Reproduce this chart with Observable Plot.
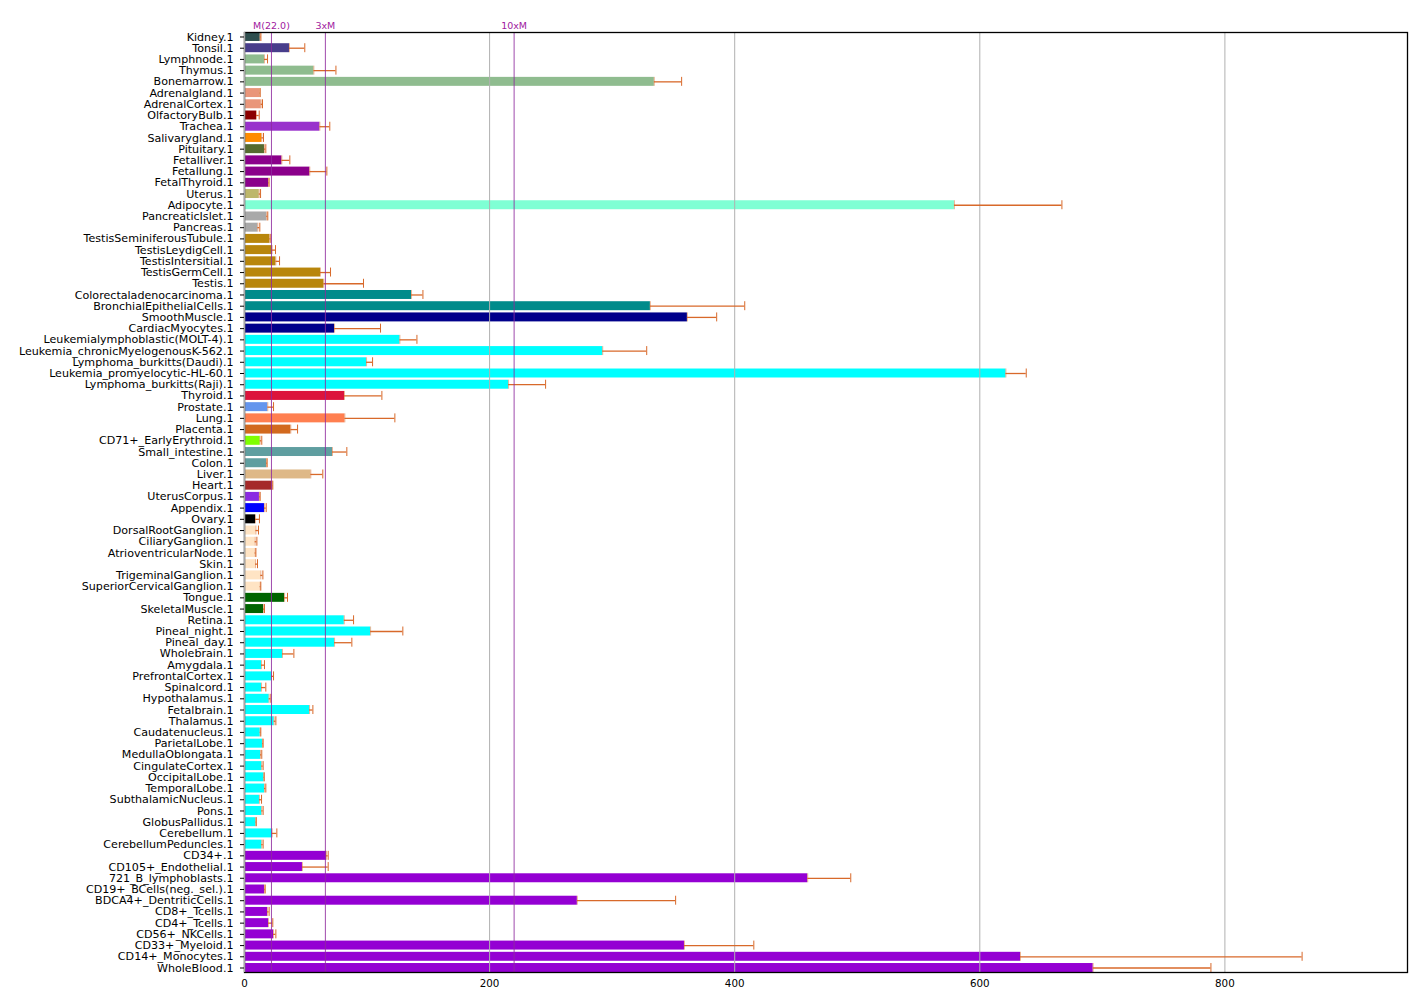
<!DOCTYPE html>
<html><head><meta charset="utf-8">
<script src="https://cdn.jsdelivr.net/npm/d3@7"></script>
<script src="https://cdn.jsdelivr.net/npm/@observablehq/plot@0.6"></script>
<style>body{margin:0;background:#fff} svg{display:block}</style>
</head><body><div id="chart"></div>
<script>
const tissues = ["Kidney.1","Tonsil.1","Lymphnode.1","Thymus.1","Bonemarrow.1","Adrenalgland.1","AdrenalCortex.1","OlfactoryBulb.1","Trachea.1","Salivarygland.1","Pituitary.1","Fetalliver.1","Fetallung.1","FetalThyroid.1","Uterus.1","Adipocyte.1","PancreaticIslet.1","Pancreas.1","TestisSeminiferousTubule.1","TestisLeydigCell.1","TestisIntersitial.1","TestisGermCell.1","Testis.1","Colorectaladenocarcinoma.1","BronchialEpithelialCells.1","SmoothMuscle.1","CardiacMyocytes.1","Leukemialymphoblastic(MOLT-4).1","Leukemia_chronicMyelogenousK-562.1","Lymphoma_burkitts(Daudi).1","Leukemia_promyelocytic-HL-60.1","Lymphoma_burkitts(Raji).1","Thyroid.1","Prostate.1","Lung.1","Placenta.1","CD71+_EarlyErythroid.1","Small_intestine.1","Colon.1","Liver.1","Heart.1","UterusCorpus.1","Appendix.1","Ovary.1","DorsalRootGanglion.1","CiliaryGanglion.1","AtrioventricularNode.1","Skin.1","TrigeminalGanglion.1","SuperiorCervicalGanglion.1","Tongue.1","SkeletalMuscle.1","Retina.1","Pineal_night.1","Pineal_day.1","Wholebrain.1","Amygdala.1","PrefrontalCortex.1","Spinalcord.1","Hypothalamus.1","Fetalbrain.1","Thalamus.1","Caudatenucleus.1","ParietalLobe.1","MedullaOblongata.1","CingulateCortex.1","OccipitalLobe.1","TemporalLobe.1","SubthalamicNucleus.1","Pons.1","GlobusPallidus.1","Cerebellum.1","CerebellumPeduncles.1","CD34+.1","CD105+_Endothelial.1","721_B_lymphoblasts.1","CD19+_BCells(neg._sel.).1","BDCA4+_DentriticCells.1","CD8+_Tcells.1","CD4+_Tcells.1","CD56+_NKCells.1","CD33+_Myeloid.1","CD14+_Monocytes.1","WholeBlood.1"];

const values = [12.8,36.7,16.3,56.6,334.4,12.5,13.6,9.8,61.5,14.1,16.3,30.5,53.3,19.6,12.0,579.3,18.2,10.9,20.7,22.6,25.6,62.0,64.7,136.3,331.2,361.4,73.5,126.8,292.3,99.6,621.3,215.5,81.6,19.0,81.9,37.8,12.8,71.8,18.0,54.1,22.6,12.2,16.3,9.0,9.3,8.7,8.7,9.0,13.3,12.8,32.7,15.5,81.4,102.9,73.5,31.0,13.9,22.0,13.9,20.1,53.1,24.2,12.8,14.7,13.1,14.1,15.8,16.3,12.2,14.1,9.3,22.6,14.1,66.9,47.3,459.6,16.3,271.6,18.8,19.6,23.7,359.0,633.2,692.5];

const errors = [0.6,12.5,2.5,18.0,22.3,0.3,1.1,2.2,8.1,1.4,1.1,6.5,13.9,0.5,1.1,87.7,0.8,1.6,0.8,2.7,3.0,8.2,32.4,9.3,77.0,23.9,37.5,13.9,35.9,4.9,16.6,30.2,30.5,4.7,40.8,5.5,1.3,11.7,0.5,9.8,0.5,0.6,1.4,3.2,2.1,1.4,0.6,1.6,1.7,0.5,2.4,0.8,7.6,26.3,14.1,9.3,2.4,1.7,3.5,1.4,2.7,1.4,0.5,0.5,1.0,1.1,0.3,1.1,1.7,1.1,0.3,3.8,1.1,1.4,21.0,35.1,0.6,80.2,1.3,3.5,1.9,56.6,229.8,96.1];

const barColors = ["darkslategray","darkslateblue","darkseagreen","darkseagreen","darkseagreen","darksalmon","darksalmon","darkred","darkorchid","darkorange","darkolivegreen","darkmagenta","darkmagenta","darkmagenta","darkkhaki","aquamarine","darkgray","darkgray","darkgoldenrod","darkgoldenrod","darkgoldenrod","darkgoldenrod","darkgoldenrod","darkcyan","darkcyan","darkblue","darkblue","cyan","cyan","cyan","cyan","cyan","crimson","cornflowerblue","coral","chocolate","chartreuse","cadetblue","cadetblue","burlywood","brown","blueviolet","blue","black","bisque","bisque","bisque","bisque","bisque","bisque","darkgreen","darkgreen","cyan","cyan","cyan","cyan","cyan","cyan","cyan","cyan","cyan","cyan","cyan","cyan","cyan","cyan","cyan","cyan","cyan","cyan","cyan","cyan","cyan","darkviolet","darkviolet","darkviolet","darkviolet","darkviolet","darkviolet","darkviolet","darkviolet","darkviolet","darkviolet","darkviolet"];

const xTicks = [0, 200, 400, 600, 800];
const refValues = [22, 66, 220];
const refLabels = ["M(22.0)", "3xM", "10xM"];

const data = tissues.map((t, i) => ({tissue: t, value: values[i], err: errors[i], color: barColors[i]}));
const refs = refValues.map((v, i) => ({x: v, label: refLabels[i]}));

const errColor = "#d8692a";
const refColor = "#8e2a9e";

const chart = Plot.plot({
  width: 1426,
  height: 1008,
  marginLeft: 244,
  marginRight: 19,
  marginTop: 32,
  marginBottom: 36,
  style: {fontFamily: "DejaVu Sans", fontSize: "11px", background: "white", color: "black", overflow: "visible"},
  x: {domain: [0, 949], ticks: xTicks, tickSize: 0, tickPadding: 7, label: null},
  y: {domain: tissues, paddingInner: 0.2, paddingOuter: 0, round: false, tickSize: 4, tickPadding: 7, label: null},
  color: {type: "identity"},
  marks: [
    Plot.barX(data, {y: "tissue", x: "value", fill: "color"}),
    Plot.ruleX(xTicks, {stroke: "#b0b0b0", strokeWidth: 1}),
    Plot.ruleY(data, {y: "tissue", x1: "value", x2: d => d.value + d.err, stroke: errColor, strokeWidth: 1.3}),
    Plot.tickX(data, {y: "tissue", x: "value", stroke: errColor, strokeWidth: 1, strokeOpacity: 0.5}),
    Plot.tickX(data, {y: "tissue", x: d => d.value + d.err, stroke: errColor, strokeWidth: 1}),
    Plot.ruleX(refs, {x: "x", stroke: refColor, strokeWidth: 1, strokeOpacity: 0.85}),
    Plot.frame({stroke: "black", strokeWidth: 1.3}),
    Plot.ruleX([0], {stroke: "#a8a8a8", strokeWidth: 1.5}),
    Plot.text(refs, {x: "x", text: "label", frameAnchor: "top", dy: -4, lineAnchor: "bottom", fill: "#a020a0", fontSize: 9.5}),
    Plot.axisX({ticks: xTicks, tickSize: 0, tickPadding: 7, fontSize: 10.3, label: null}),
    Plot.axisY({tickSize: 4, tickPadding: 7, fontSize: 11.1, label: null})
  ]
});
document.getElementById("chart").appendChild(chart);
</script>
</body></html>
